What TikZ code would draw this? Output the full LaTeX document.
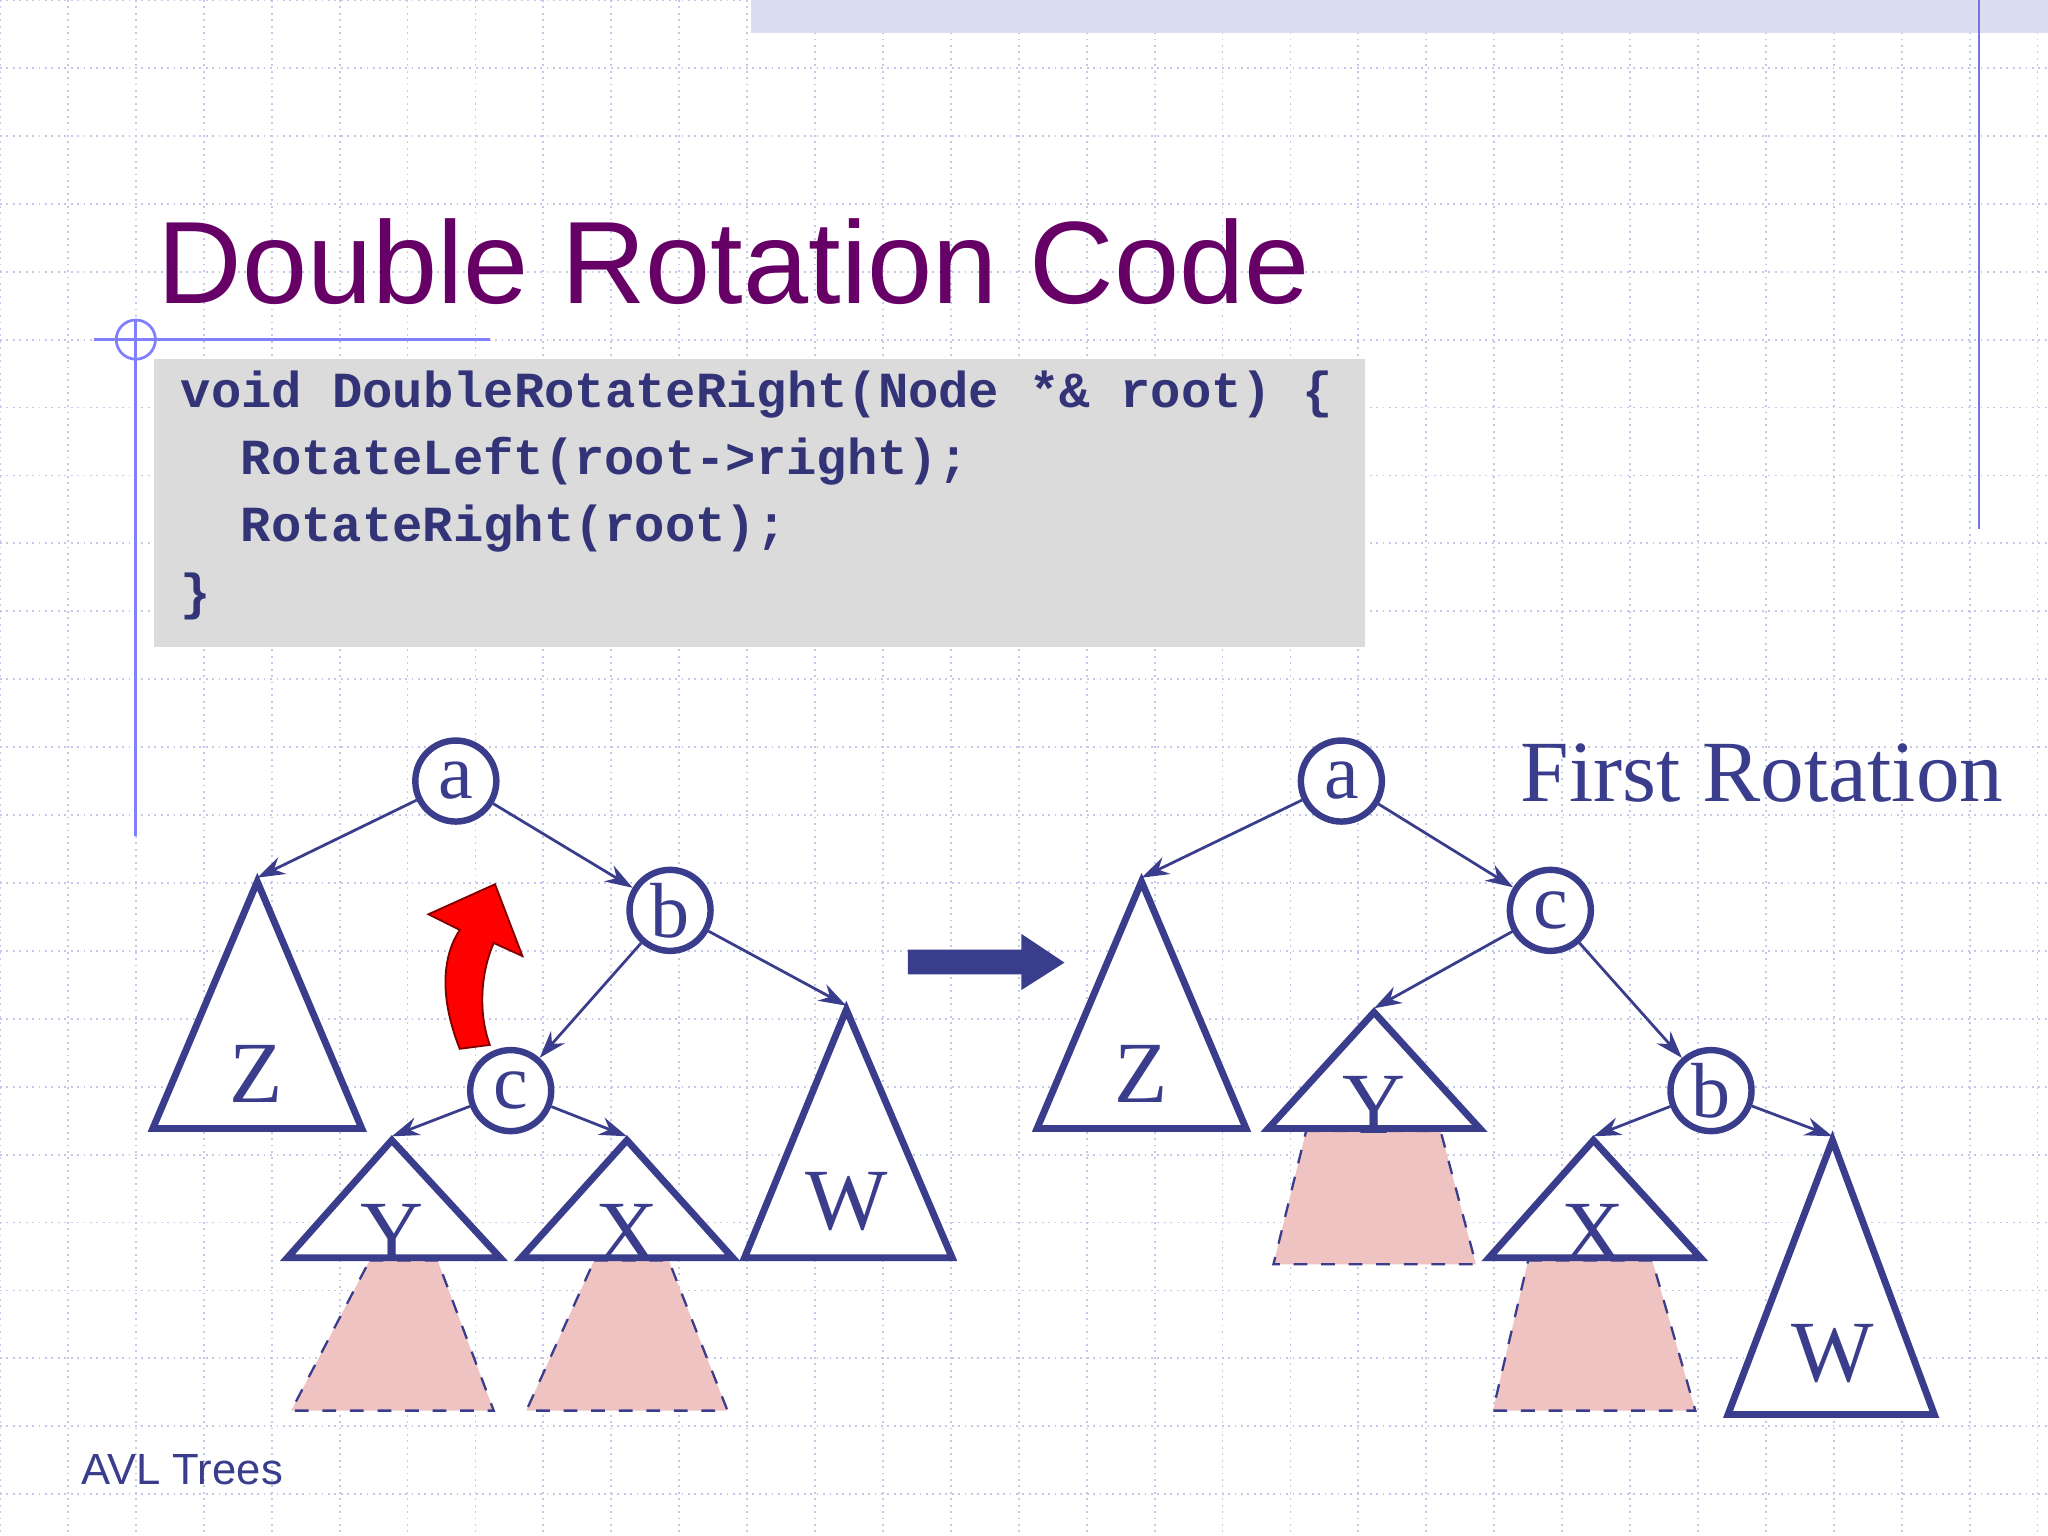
\documentclass[tikz,border=0pt]{standalone}
\usepackage{fontspec}
\setmainfont{Liberation Serif}
\newfontfamily\titlefont{Liberation Sans}
\newfontfamily\codefont{Liberation Mono}
\usetikzlibrary{arrows.meta}
\definecolor{navy}{RGB}{58,60,140}
\definecolor{ttl}{RGB}{102,0,102}
\definecolor{codec}{RGB}{51,51,120}
\definecolor{pinkf}{RGB}{240,195,195}
\definecolor{gridc}{RGB}{195,200,235}
\tikzset{
 tnode/.style={circle,draw=navy,line width=1.4pt,fill=white,minimum size=0.62cm,inner sep=0pt,font=\fontsize{17}{17}\selectfont,text=navy},
 tri/.style={draw=navy,line width=1.5pt,fill=white,line join=miter},
 pk/.style={draw=navy,dashed,line width=0.5pt,fill=pinkf},
 edge/.style={navy,line width=0.6pt,-{Stealth[length=6pt,width=4pt]}},
 lbl/.style={text=navy,font=\fontsize{19}{19}\selectfont},
 codel/.style={anchor=west,text=codec,font=\codefont\bfseries\fontsize{11}{11}\selectfont}
}
\begin{document}
\begin{tikzpicture}[x=0.01cm,y=-0.01cm]
\useasboundingbox (0,0) rectangle (1568,1176);
\fill[white] (0,0) rectangle (1568,1176);
\foreach \i in {0,52,...,1568} \draw[gridc,densely dotted,line width=0.4pt] (\i,0) -- (\i,1176);
\foreach \i in {0,52,...,1176} \draw[gridc,densely dotted,line width=0.4pt] (0,\i) -- (1568,\i);
\fill[gridc!60] (575,0) rectangle (1568,25);
\draw[navy!40!blue!60,line width=0.5pt] (1515,0) -- (1515,405);
\draw[blue!50,line width=0.6pt] (72,260) -- (375,260);
\draw[blue!50,line width=0.6pt] (104,245) -- (104,640);
\draw[blue!50,line width=0.6pt] (104,260) circle (15);
% title
\node[anchor=base west,text=ttl,inner sep=0pt,font=\titlefont\fontsize{25.5}{26}\selectfont] (title) at (120,232) {Double Rotation Code};
% code
\fill[gray!28] (118,275) rectangle (1045,495);
\node[codel] (c1) at (126,302) {void DoubleRotateRight(Node *\& root) \{};
\node[codel] (c2) at (172,353) {RotateLeft(root->right);};
\node[codel] (c3) at (172,405) {RotateRight(root);};
\node[codel] (c4) at (126,457) {\}};
% left tree pink
\draw[pk] (283,965) -- (335,965) -- (378,1080) -- (223,1080) -- cycle;
\draw[pk] (455,965) -- (512,965) -- (557,1080) -- (403,1080) -- cycle;
% left triangles
\draw[tri] (197,675) -- (277,864) -- (117,864) -- cycle;
\draw[tri] (648,773) -- (729,963) -- (570,963) -- cycle;
\draw[tri] (300,873) -- (383,963) -- (220,963) -- cycle;
\draw[tri] (480,873) -- (561,963) -- (399,963) -- cycle;
\coordinate (Zl) at (197,672);
\coordinate (Wl) at (648,770);
\coordinate (Yl) at (300,870);
\coordinate (Xl) at (480,870);
\node[lbl] (lz) at (196,822) {Z};
\node[lbl] (lw) at (648,920) {W};
\node[lbl] (ly) at (300,944) {Y};
\node[lbl] (lx) at (480,944) {X};
\node[tnode] (a1) at (349,598) {a};
\node[tnode] (b1) at (513,697) {b};
\node[tnode] (c1n) at (391,835) {c};
\draw[edge] (a1) -- (Zl);
\draw[edge] (a1) -- (b1);
\draw[edge] (b1) -- (c1n);
\draw[edge] (b1) -- (Wl);
\draw[edge] (c1n) -- (Yl);
\draw[edge] (c1n) -- (Xl);
% red arrow
\fill[red,draw=red!50!black,line width=0.4pt] (352,803) .. controls (335,760) and (340,730) .. (352,712) -- (328,700) -- (379,677) -- (400,732) -- (378,722) .. controls (368,745) and (366,775) .. (375,800) -- cycle;
% big arrow
\fill[navy] (695,727) -- (782,727) -- (782,715) -- (815,737) -- (782,758) -- (782,746) -- (695,746) -- cycle;
% right tree
\draw[pk] (1000,866) -- (1103,866) -- (1130,968) -- (975,968) -- cycle;
\draw[pk] (1170,965) -- (1265,965) -- (1298,1080) -- (1143,1080) -- cycle;
\draw[tri] (874,675) -- (954,864) -- (794,864) -- cycle;
\draw[tri] (1052,775) -- (1133,864) -- (971,864) -- cycle;
\draw[tri] (1220,873) -- (1302,963) -- (1140,963) -- cycle;
\draw[tri] (1403,873) -- (1481,1083) -- (1323,1083) -- cycle;
\coordinate (Zr) at (874,672);
\coordinate (Yr) at (1052,772);
\coordinate (Xr) at (1220,870);
\coordinate (Wr) at (1403,870);
\node[lbl] (rz) at (874,822) {Z};
\node[lbl] (ry) at (1052,846) {Y};
\node[lbl] (rx) at (1220,944) {X};
\node[lbl] (rw) at (1403,1036) {W};
\node[tnode] (a2) at (1027,598) {a};
\node[tnode] (c2n) at (1187,697) {c};
\node[tnode] (b2) at (1310,835) {b};
\draw[edge] (a2) -- (Zr);
\draw[edge] (a2) -- (c2n);
\draw[edge] (c2n) -- (Yr);
\draw[edge] (c2n) -- (b2);
\draw[edge] (b2) -- (Xr);
\draw[edge] (b2) -- (Wr);
\node[lbl,anchor=west] (fr) at (1152,592) {First Rotation};
\node[anchor=west,text=navy,font=\titlefont\fontsize{9.5}{10}\selectfont] (avl) at (50,1125) {AVL Trees};
\end{tikzpicture}
\end{document}
